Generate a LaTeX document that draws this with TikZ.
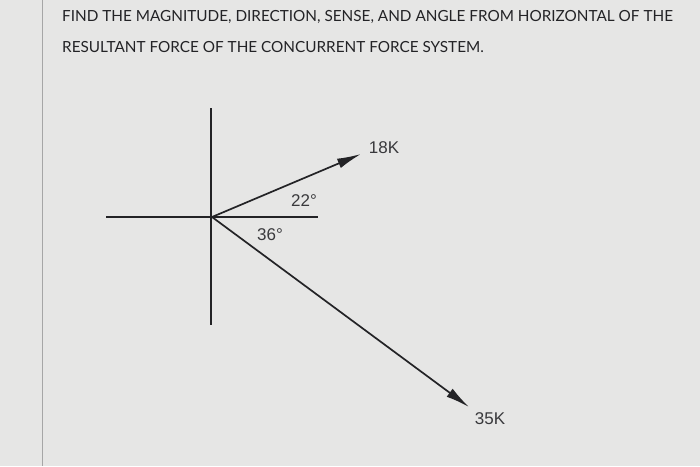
\documentclass[tikz,border=0pt]{standalone}
\usepackage{fontspec}
\setmainfont{Lato}
\newfontfamily\labelfont{Liberation Sans}
\usetikzlibrary{arrows.meta}
\definecolor{bg}{RGB}{230,230,229}
\definecolor{ink}{RGB}{35,35,38}
\tikzset{
  axisline/.style={draw=ink, line width=1.7pt},
  forceline/.style={draw=ink, line width=1.7pt, -{Latex[length=24pt,width=10pt]}},
  lbl/.style={font=\labelfont\fontsize{17}{17}\selectfont, text=ink!90, inner sep=0pt},
  ttl/.style={font=\fontsize{15.3}{18}\selectfont, text=ink, inner sep=0pt, anchor=west}
}
\begin{document}
\begin{tikzpicture}[x=1pt,y=-1pt]
\fill[bg] (0,0) rectangle (700,466);
\useasboundingbox (0,0) rectangle (700,466);
\draw[gray!70, line width=0.8pt] (42,0) -- (42,466);
\node[ttl] (t1) at (62,17) {FIND THE MAGNITUDE, DIRECTION, SENSE, AND ANGLE FROM HORIZONTAL OF THE};
\node[ttl] (t2) at (62,47) {RESULTANT FORCE OF THE CONCURRENT FORCE SYSTEM.};
\coordinate (O) at (212,217);
\coordinate (vtop) at (211,108);
\coordinate (vbot) at (211,325);
\coordinate (hl) at (106,217);
\coordinate (hr) at (318,217);
\coordinate (f1) at (361,154);
\coordinate (f2) at (469,407);
\draw[axisline] (vtop) -- (vbot);
\draw[axisline] (hl) -- (hr);
\draw[forceline] (O) -- (f1);
\draw[forceline] (O) -- (f2);
\node[lbl] (l18) at (384,148) {18K};
\node[lbl] (l22) at (304,201) {22°};
\node[lbl] (l36) at (270,235) {36°};
\node[lbl] (l35) at (490,419) {35K};
\end{tikzpicture}
\end{document}
